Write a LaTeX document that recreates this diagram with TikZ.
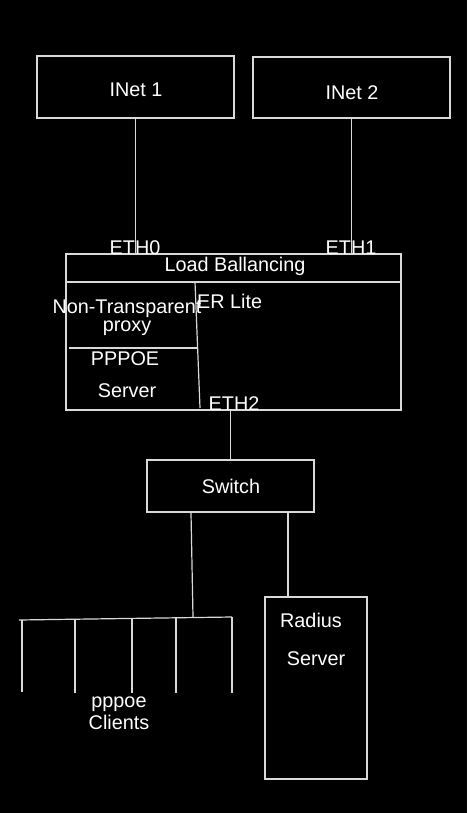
\documentclass[tikz,border=0pt]{standalone}
\usepackage{fontspec}
\setmainfont{Liberation Sans}
\begin{document}
\begin{tikzpicture}[x=1pt,y=-1pt,
  ln/.style={draw=white!85!black, line width=1.2pt},
  box/.style={ln, rectangle, inner sep=0pt, anchor=center},
  txt/.style={text=white, inner sep=0pt, font=\fontsize{19.8}{20}\selectfont, anchor=center, align=center}]
\fill[black] (0,0) rectangle (467,813);
\useasboundingbox (0,0) rectangle (467,813);
% boxes
\node[box, minimum width=197pt, minimum height=62pt] (inet1) at (135.5,87) {};
\node[box, minimum width=197pt, minimum height=61pt] (inet2) at (351.5,87.5) {};
\node[box, minimum width=335pt, minimum height=156pt] (er) at (233.5,332) {};
\node[box, minimum width=167pt, minimum height=52pt] (sw) at (230.5,486) {};
\node[box, minimum width=102pt, minimum height=182pt] (rad) at (316,688) {};
% texts
\node[txt] (t1) at (136,90) {INet 1};
\node[txt] (t2) at (352,93) {INet 2};
\node[txt] (eth0) at (135,248) {ETH0};
\node[txt] (eth1) at (351,248) {ETH1};
\node[txt] (lb) at (235,266) {Load Ballancing};
\node[txt, font=\fontsize{19.8}{18}\selectfont] (ntp) at (127,318) {Non-Transparent\\proxy};
\node[txt, anchor=west] (erl) at (197,301) {ER Lite};
\node[txt] (pppoe) at (125,359) {PPPOE};
\node[txt] (srv) at (127,391) {Server};
\node[txt] (eth2) at (234,404) {ETH2};
\node[txt] (swt) at (231,486) {Switch};
\node[txt, font=\fontsize{19.8}{22}\selectfont] (pc) at (119,713) {pppoe\\Clients};
\node[txt] (r1) at (311,620) {Radius};
\node[txt] (r2) at (316,659) {Server};
% inner lines of ER box
\coordinate (hl) at (66,282);
\coordinate (hr) at (401,282);
\coordinate (dvt) at (195,282);
\coordinate (dvb) at (200,408);
\coordinate (ml) at (69,348);
\coordinate (mr) at (197,348);
\draw[ln] (hl) -- (hr);
\draw[ln] (dvt) -- (dvb);
\draw[ln] (ml) -- (mr);
% connectors
\draw[ln] (inet1.south) -- (inet1.south |- er.north);
\draw[ln] (inet2.south) -- (inet2.south |- er.north);
\draw[ln] (sw.north |- er.south) -- (sw.north);
\coordinate (s1) at (191,513);
\coordinate (bj) at (193,617);
\coordinate (s2) at (288,513);
\draw[ln] (s1) -- (bj);
\draw[ln] (s2) -- (s2 |- rad.north);
% bus
\coordinate (bl) at (19,620);
\coordinate (br) at (232,617);
\draw[ln] (bl) -- (br);
\coordinate (d1t) at (22,620); \coordinate (d1b) at (22,692);
\coordinate (d2t) at (75,619); \coordinate (d2b) at (75,693);
\coordinate (d3t) at (132,619); \coordinate (d3b) at (132,693);
\coordinate (d4t) at (176,618); \coordinate (d4b) at (176,693);
\coordinate (d5b) at (232,693);
\draw[ln] (d1t) -- (d1b);
\draw[ln] (d2t) -- (d2b);
\draw[ln] (d3t) -- (d3b);
\draw[ln] (d4t) -- (d4b);
\draw[ln] (br) -- (d5b);
\end{tikzpicture}
\end{document}
